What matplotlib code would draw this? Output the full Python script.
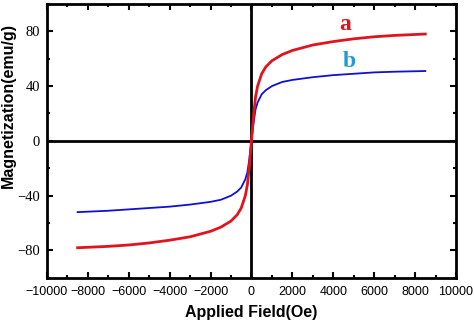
import matplotlib
matplotlib.use("Agg")
import matplotlib.pyplot as plt
from matplotlib.ticker import MultipleLocator

# field (Oe) and magnetization (emu/g)
field = [-8500, -7000, -6000, -5000, -4000, -3000, -2000, -1500, -1000, -700,
         -500, -300, -200, -100, 0, 100, 200, 300, 500, 700,
         1000, 1500, 2000, 3000, 4000, 5000, 6000, 7000, 8500]
mag_a = [-78, -77, -76, -74.5, -72.5, -70, -66, -63, -58.5, -54,
         -49, -40, -32, -18, 0, 18, 32, 40, 49, 54,
         58.5, 63, 66, 70, 72.5, 74.5, 76, 77, 78]
mag_b = [-52, -51, -50, -49, -48, -46.5, -44.5, -43, -40, -37,
         -34, -28, -23, -13, 0, 13, 23, 28, 34, 37,
         40, 43, 44.5, 46.5, 48, 49, 50, 50.5, 51]

fig = plt.figure(figsize=(4.74, 3.25), dpi=100)
ax = fig.add_axes([0.099, 0.145, 0.863, 0.843])

ax.axhline(0, color="black", lw=2, zorder=1)
ax.axvline(0, color="black", lw=2, zorder=1)
ax.plot(field, mag_b, color="#1010d0", lw=1.3, zorder=2)
ax.plot(field, mag_a, color="#e0141e", lw=2, zorder=3)

ax.text(4600, 85, "a", color="#e0141e", fontsize=17, fontweight="bold",
        family="Liberation Serif", ha="center", va="center")
ax.text(4800, 58, "b", color="#1e9bd7", fontsize=17, fontweight="bold",
        family="Liberation Serif", ha="center", va="center")

ax.set_xlim(-10000, 10000)
ax.set_ylim(-100, 100)
ax.xaxis.set_major_locator(MultipleLocator(2000))
ax.xaxis.set_minor_locator(MultipleLocator(1000))
ax.yaxis.set_major_locator(MultipleLocator(40))
ax.yaxis.set_minor_locator(MultipleLocator(20))
ax.tick_params(which="both", direction="in", top=True, right=True, width=1.5)
ax.tick_params(which="major", length=4)
ax.tick_params(which="minor", length=2.5)
ax.tick_params(axis="x", pad=6)
ax.tick_params(axis="y", pad=5)
for s in ax.spines.values():
    s.set_linewidth(2)

for lab in ax.get_xticklabels():
    lab.set_family("Liberation Sans")
    lab.set_fontsize(9)
for lab in ax.get_yticklabels():
    lab.set_family("Liberation Serif")
    lab.set_fontsize(10.5)

ax.set_xlabel("Applied Field(Oe)", fontsize=11.5, fontweight="bold",
              family="Liberation Sans", labelpad=5)
ax.set_ylabel("Magnetization(emu/g)", fontsize=11.5, fontweight="bold",
              family="Liberation Sans")
ax.yaxis.set_label_coords(-0.075, 0.63)

fig.savefig("out.png", dpi=100)
